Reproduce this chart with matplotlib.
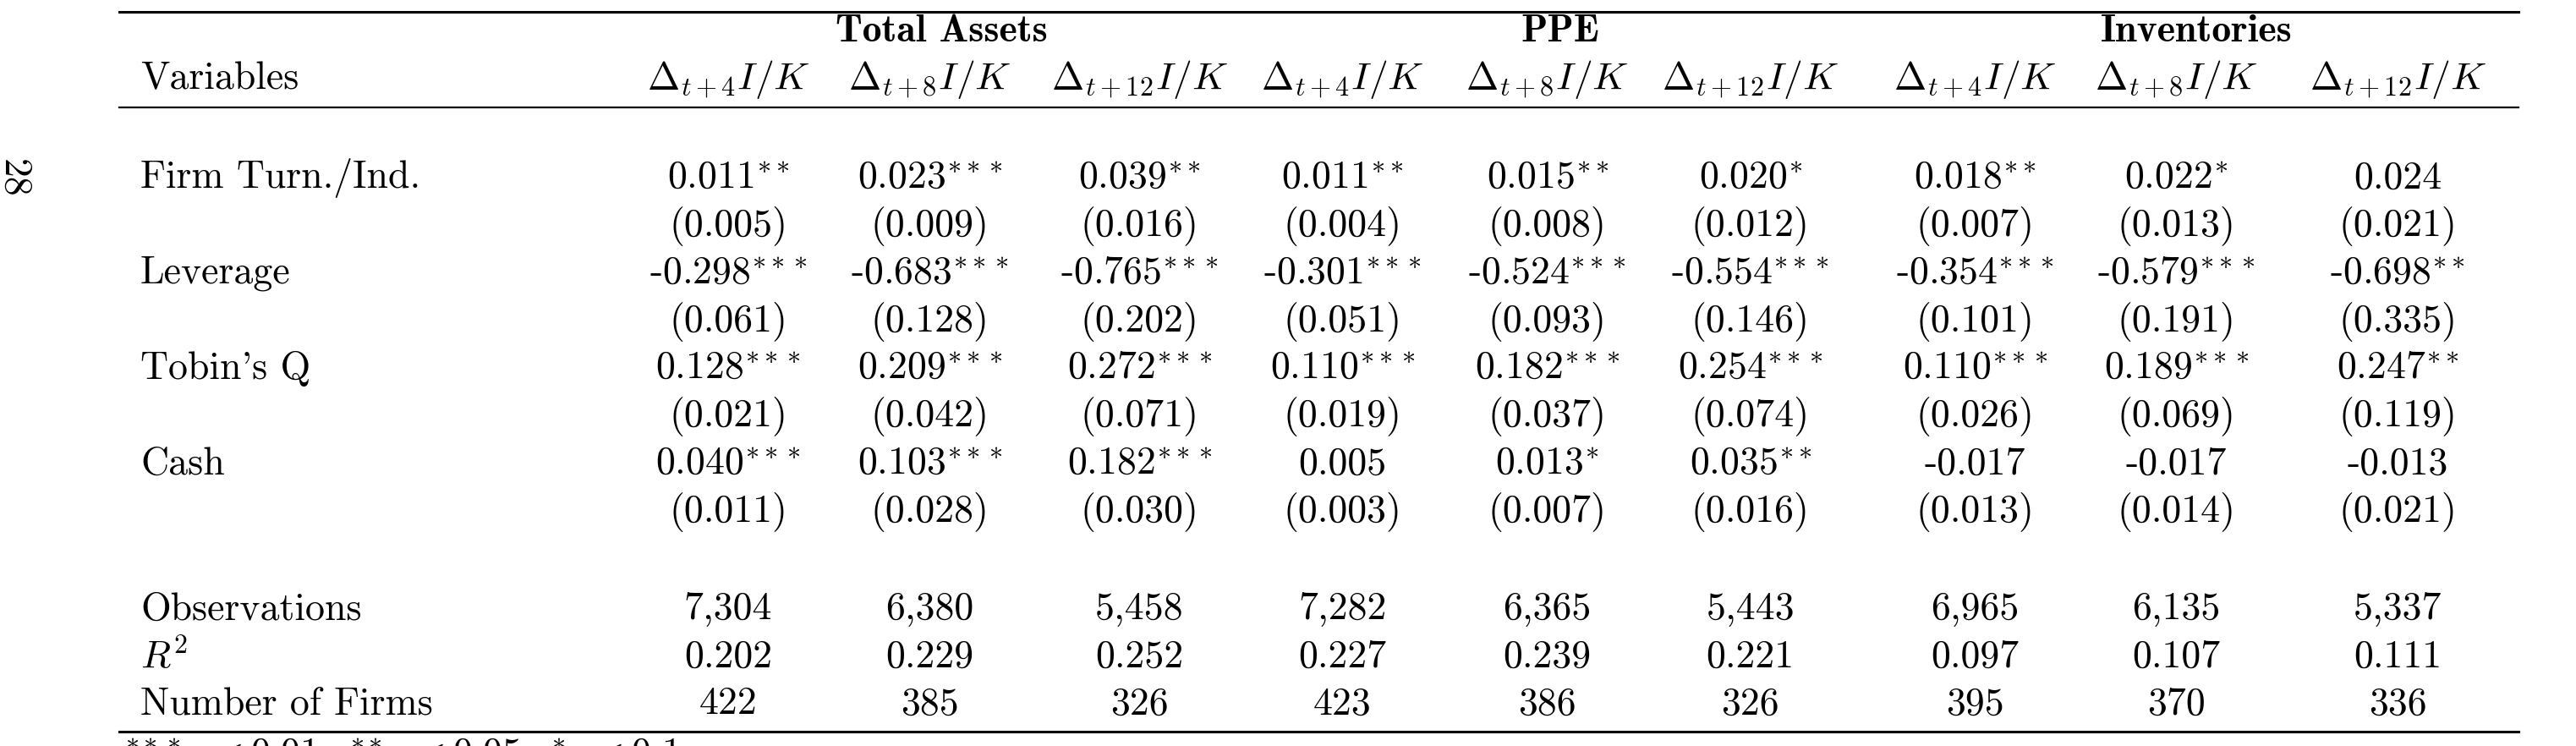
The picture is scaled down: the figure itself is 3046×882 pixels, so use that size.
import matplotlib
matplotlib.use("Agg")
import matplotlib.pyplot as plt

plt.rcParams['font.family'] = ['cmr10']
plt.rcParams['mathtext.fontset'] = 'cm'

groups = ["Total Assets", "PPE", "Inventories"]
col_heads = [r"$\Delta_{t+4}I/K$", r"$\Delta_{t+8}I/K$", r"$\Delta_{t+12}I/K$"] * 3
variables = ["Firm Turn./Ind.", "Leverage", "Tobin's Q", "Cash"]
coefs = [
    ["0.011**", "0.023***", "0.039**", "0.011**", "0.015**", "0.020*", "0.018**", "0.022*", "0.024"],
    ["-0.298***", "-0.683***", "-0.765***", "-0.301***", "-0.524***", "-0.554***", "-0.354***", "-0.579***", "-0.698**"],
    ["0.128***", "0.209***", "0.272***", "0.110***", "0.182***", "0.254***", "0.110***", "0.189***", "0.247**"],
    ["0.040***", "0.103***", "0.182***", "0.005", "0.013*", "0.035**", "-0.017", "-0.017", "-0.013"],
]
ses = [
    ["0.005", "0.009", "0.016", "0.004", "0.008", "0.012", "0.007", "0.013", "0.021"],
    ["0.061", "0.128", "0.202", "0.051", "0.093", "0.146", "0.101", "0.191", "0.335"],
    ["0.021", "0.042", "0.071", "0.019", "0.037", "0.074", "0.026", "0.069", "0.119"],
    ["0.011", "0.028", "0.030", "0.003", "0.007", "0.016", "0.013", "0.014", "0.021"],
]
stat_labels = ["Observations", r"$R^2$", "Number of Firms"]
stats = [
    ["7,304", "6,380", "5,458", "7,282", "6,365", "5,443", "6,965", "6,135", "5,337"],
    ["0.202", "0.229", "0.252", "0.227", "0.239", "0.221", "0.097", "0.107", "0.111"],
    ["422", "385", "326", "423", "386", "326", "395", "370", "336"],
]

s = 3046 / 1560
fig = plt.figure(figsize=(30.46, 8.82), dpi=100)
ax = fig.add_axes([0, 0, 1, 1])
ax.set_xlim(0, 3046); ax.set_ylim(882, 0); ax.axis('off')
fs = 33
xs = [c * s for c in [441, 563, 690, 813, 937, 1060, 1196, 1318, 1452]]
xl = 85 * s

def fmt(v):
    base = v.rstrip('*'); st = v[len(base):]
    return base + (r"$^{" + st + "}$" if st else "")

for yv, lw in [(7, 2.2), (65, 1.6), (443, 2.2)]:
    ax.plot([72 * s, 1525 * s], [yv * s, yv * s], color='k', lw=lw)

for g, gx in zip(groups, [570, 945, 1330]):
    ax.text(gx * s, 19 * s, g, fontsize=fs, family='cmb10', ha='center', va='center')
ax.text(xl, 48 * s, "Variables", fontsize=fs, va='center')
for x, h in zip(xs, col_heads):
    ax.text(x, 48 * s, h, fontsize=fs, ha='center', va='center')

for i, v in enumerate(variables):
    y = (108 + i * 57.7) * s
    ax.text(xl, y, v, fontsize=fs, va='center')
    for x, c, e in zip(xs, coefs[i], ses[i]):
        ax.text(x, y, fmt(c), fontsize=fs, ha='center', va='center')
        ax.text(x, y + 29 * s, "(" + e + ")", fontsize=fs, ha='center', va='center')

for i, lab in enumerate(stat_labels):
    y = (369 + i * 28.7) * s
    ax.text(xl, y, lab, fontsize=fs, va='center')
    for x, v in zip(xs, stats[i]):
        ax.text(x, y, v, fontsize=fs, ha='center', va='center')

ax.text(8 * s, 108 * s, "28", fontsize=fs, rotation=-90, ha='center', va='center')
ax.text(xl - 20, 870, r"$^{***}p<0.01,\ ^{**}p<0.05,\ ^{*}p<0.1$", fontsize=fs, va='top')

fig.savefig("out.png", dpi=100)
